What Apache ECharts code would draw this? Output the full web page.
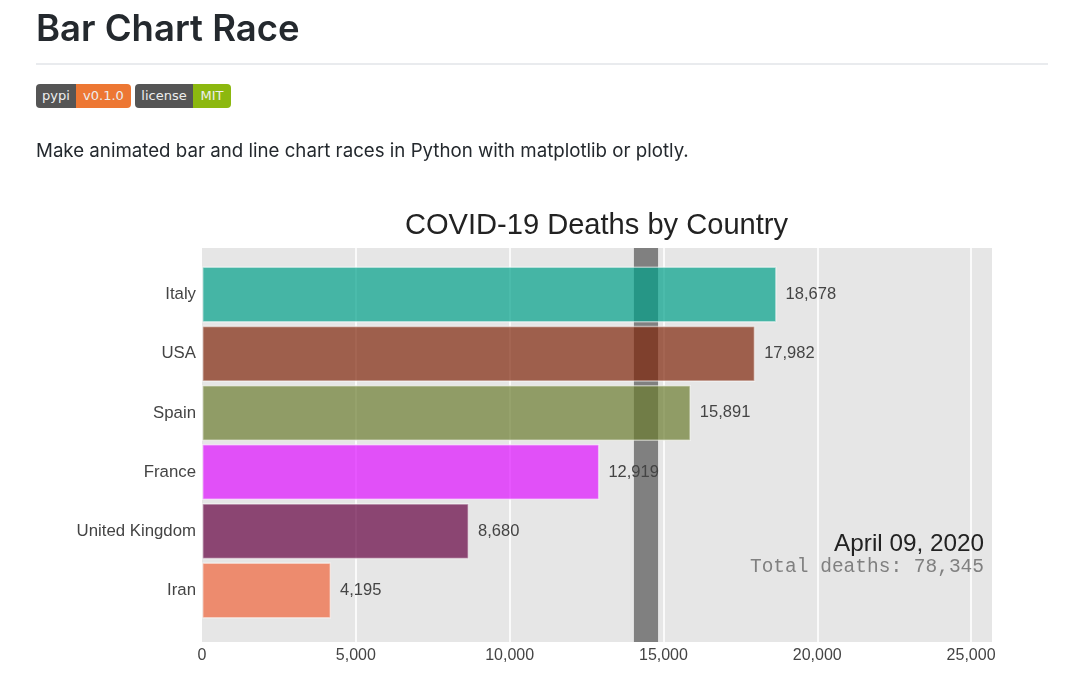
<!DOCTYPE html>
<html>
<head>
<meta charset="utf-8">
<style>
    html, body { margin: 0; padding: 0; background: #fff; width: 1080px; height: 689px; overflow: hidden; }
    body { position: relative; font-family: Inter, "Liberation Sans", sans-serif; color: #24292e; }
    h1 { position: absolute; left: 36px; top: 6px; margin: 0; font-size: 36.5px; line-height: 44px; font-weight: 600; }
    .rule { position: absolute; left: 36px; top: 63px; width: 1012px; height: 2px; background: #e9ebee; }
    .badge { position: absolute; top: 84px; height: 24px; display: flex; font: 13px/24px "DejaVu Sans", sans-serif; color: #eee; border-radius: 4px; overflow: hidden; }
    .badge span { display: block; text-align: center; }
    .badge .k { background: #555; }
    .intro { position: absolute; left: 36px; top: 139px; margin: 0; font-size: 18.7px; line-height: 24px; }
    #chart { position: absolute; left: 0; top: 0; width: 1080px; height: 689px; }
</style>
</head>
<body>
<div id="chart"></div>
<h1>Bar Chart Race</h1>
<div class="rule"></div>
<div class="badge" style="left:36px"><span class="k" style="width:40px">pypi</span><span style="width:55px;background:#ed7733">v0.1.0</span></div>
<div class="badge" style="left:135px"><span class="k" style="width:58px">license</span><span style="width:38px;background:#8cb80f">MIT</span></div>
<p class="intro">Make animated bar and line chart races in Python with matplotlib or plotly.</p>

<script src="https://cdn.jsdelivr.net/npm/echarts@6/dist/echarts.min.js"></script>
<script>
    const countries = ['Italy', 'USA', 'Spain', 'France', 'United Kingdom', 'Iran'];
    const deaths = [18678, 17982, 15891, 12919, 8680, 4195];
    const barColors = ['#00a089', '#7f250a', '#6b7c2f', '#de10ff', '#640040', '#ef643b'];
    const xTicks = [0, 5000, 10000, 15000, 20000, 25000];
    const markerRange = [14040, 14825];
    const xMax = 25680;
    const dateLabel = 'April 09, 2020';
    const totalLabel = 'Total deaths: 78,345';

    const chart = echarts.init(document.getElementById('chart'), null, { renderer: 'canvas' });
    const fontFamily = '"Liberation Sans", Arial, sans-serif';

    chart.setOption({
        animation: false,
        // grid 0 is the grey panel, grid 1 holds the bars
        grid: [
            { left: 202, top: 248, width: 790, height: 394, show: true, backgroundColor: '#e6e6e6', borderWidth: 0 },
            { left: 202, top: 265, width: 790, height: 355 }
        ],
        xAxis: [
            {
                gridIndex: 0,
                type: 'value',
                min: 0,
                max: xMax,
                interval: 5000,
                axisLine: { show: false },
                axisTick: { show: false },
                splitLine: { show: true, showMinLine: false, showMaxLine: false, lineStyle: { color: '#fff', width: 1.6 } },
                axisLabel: {
                    color: '#444',
                    fontSize: 16,
                    fontFamily,
                    margin: 6,
                    customValues: xTicks,
                    formatter: v => v.toLocaleString('en-US')
                }
            },
            { gridIndex: 1, type: 'value', min: 0, max: xMax, show: false }
        ],
        yAxis: [
            { gridIndex: 0, type: 'value', min: 0, max: 1, show: false },
            {
                gridIndex: 1,
                type: 'category',
                inverse: true,
                data: countries,
                axisLine: { show: false },
                axisTick: { show: false },
                axisLabel: { color: '#444', fontSize: 16.8, fontFamily, margin: 6 }
            }
        ],
        series: [
            {
                // grey marker band behind the bars
                type: 'line',
                xAxisIndex: 0,
                yAxisIndex: 0,
                data: [],
                silent: true,
                z: 1,
                markArea: {
                    silent: true,
                    itemStyle: { color: '#808080' },
                    data: [[{ xAxis: markerRange[0], yAxis: 0 }, { xAxis: markerRange[1], yAxis: 1 }]]
                }
            },
            {
                type: 'bar',
                xAxisIndex: 1,
                yAxisIndex: 1,
                z: 3,
                barWidth: 56,
                data: deaths.map((value, i) => ({
                    value,
                    itemStyle: {
                        color: echarts.color.modifyAlpha(barColors[i], 0.7),
                        borderColor: 'rgba(255,255,255,0.5)',
                        borderWidth: 1.5
                    }
                })),
                label: {
                    show: true,
                    position: 'right',
                    distance: 9,
                    color: '#444',
                    fontSize: 16.5,
                    fontFamily,
                    formatter: p => p.value.toLocaleString('en-US')
                }
            }
        ],
        graphic: [
            {
                type: 'text',
                x: 596.5,
                y: 211,
                z: 10,
                style: { text: 'COVID-19 Deaths by Country', fill: '#222', font: '29.1px ' + fontFamily, textAlign: 'center' }
            },
            {
                type: 'text',
                x: 984,
                y: 532,
                z: 10,
                style: { text: dateLabel, fill: '#222', font: '24.3px ' + fontFamily, textAlign: 'right' }
            },
            {
                type: 'text',
                x: 984,
                y: 557,
                z: 10,
                style: { text: totalLabel, fill: '#808080', font: '19.5px "Liberation Mono", monospace', textAlign: 'right' }
            }
        ]
    });
</script>
</body>
</html>
